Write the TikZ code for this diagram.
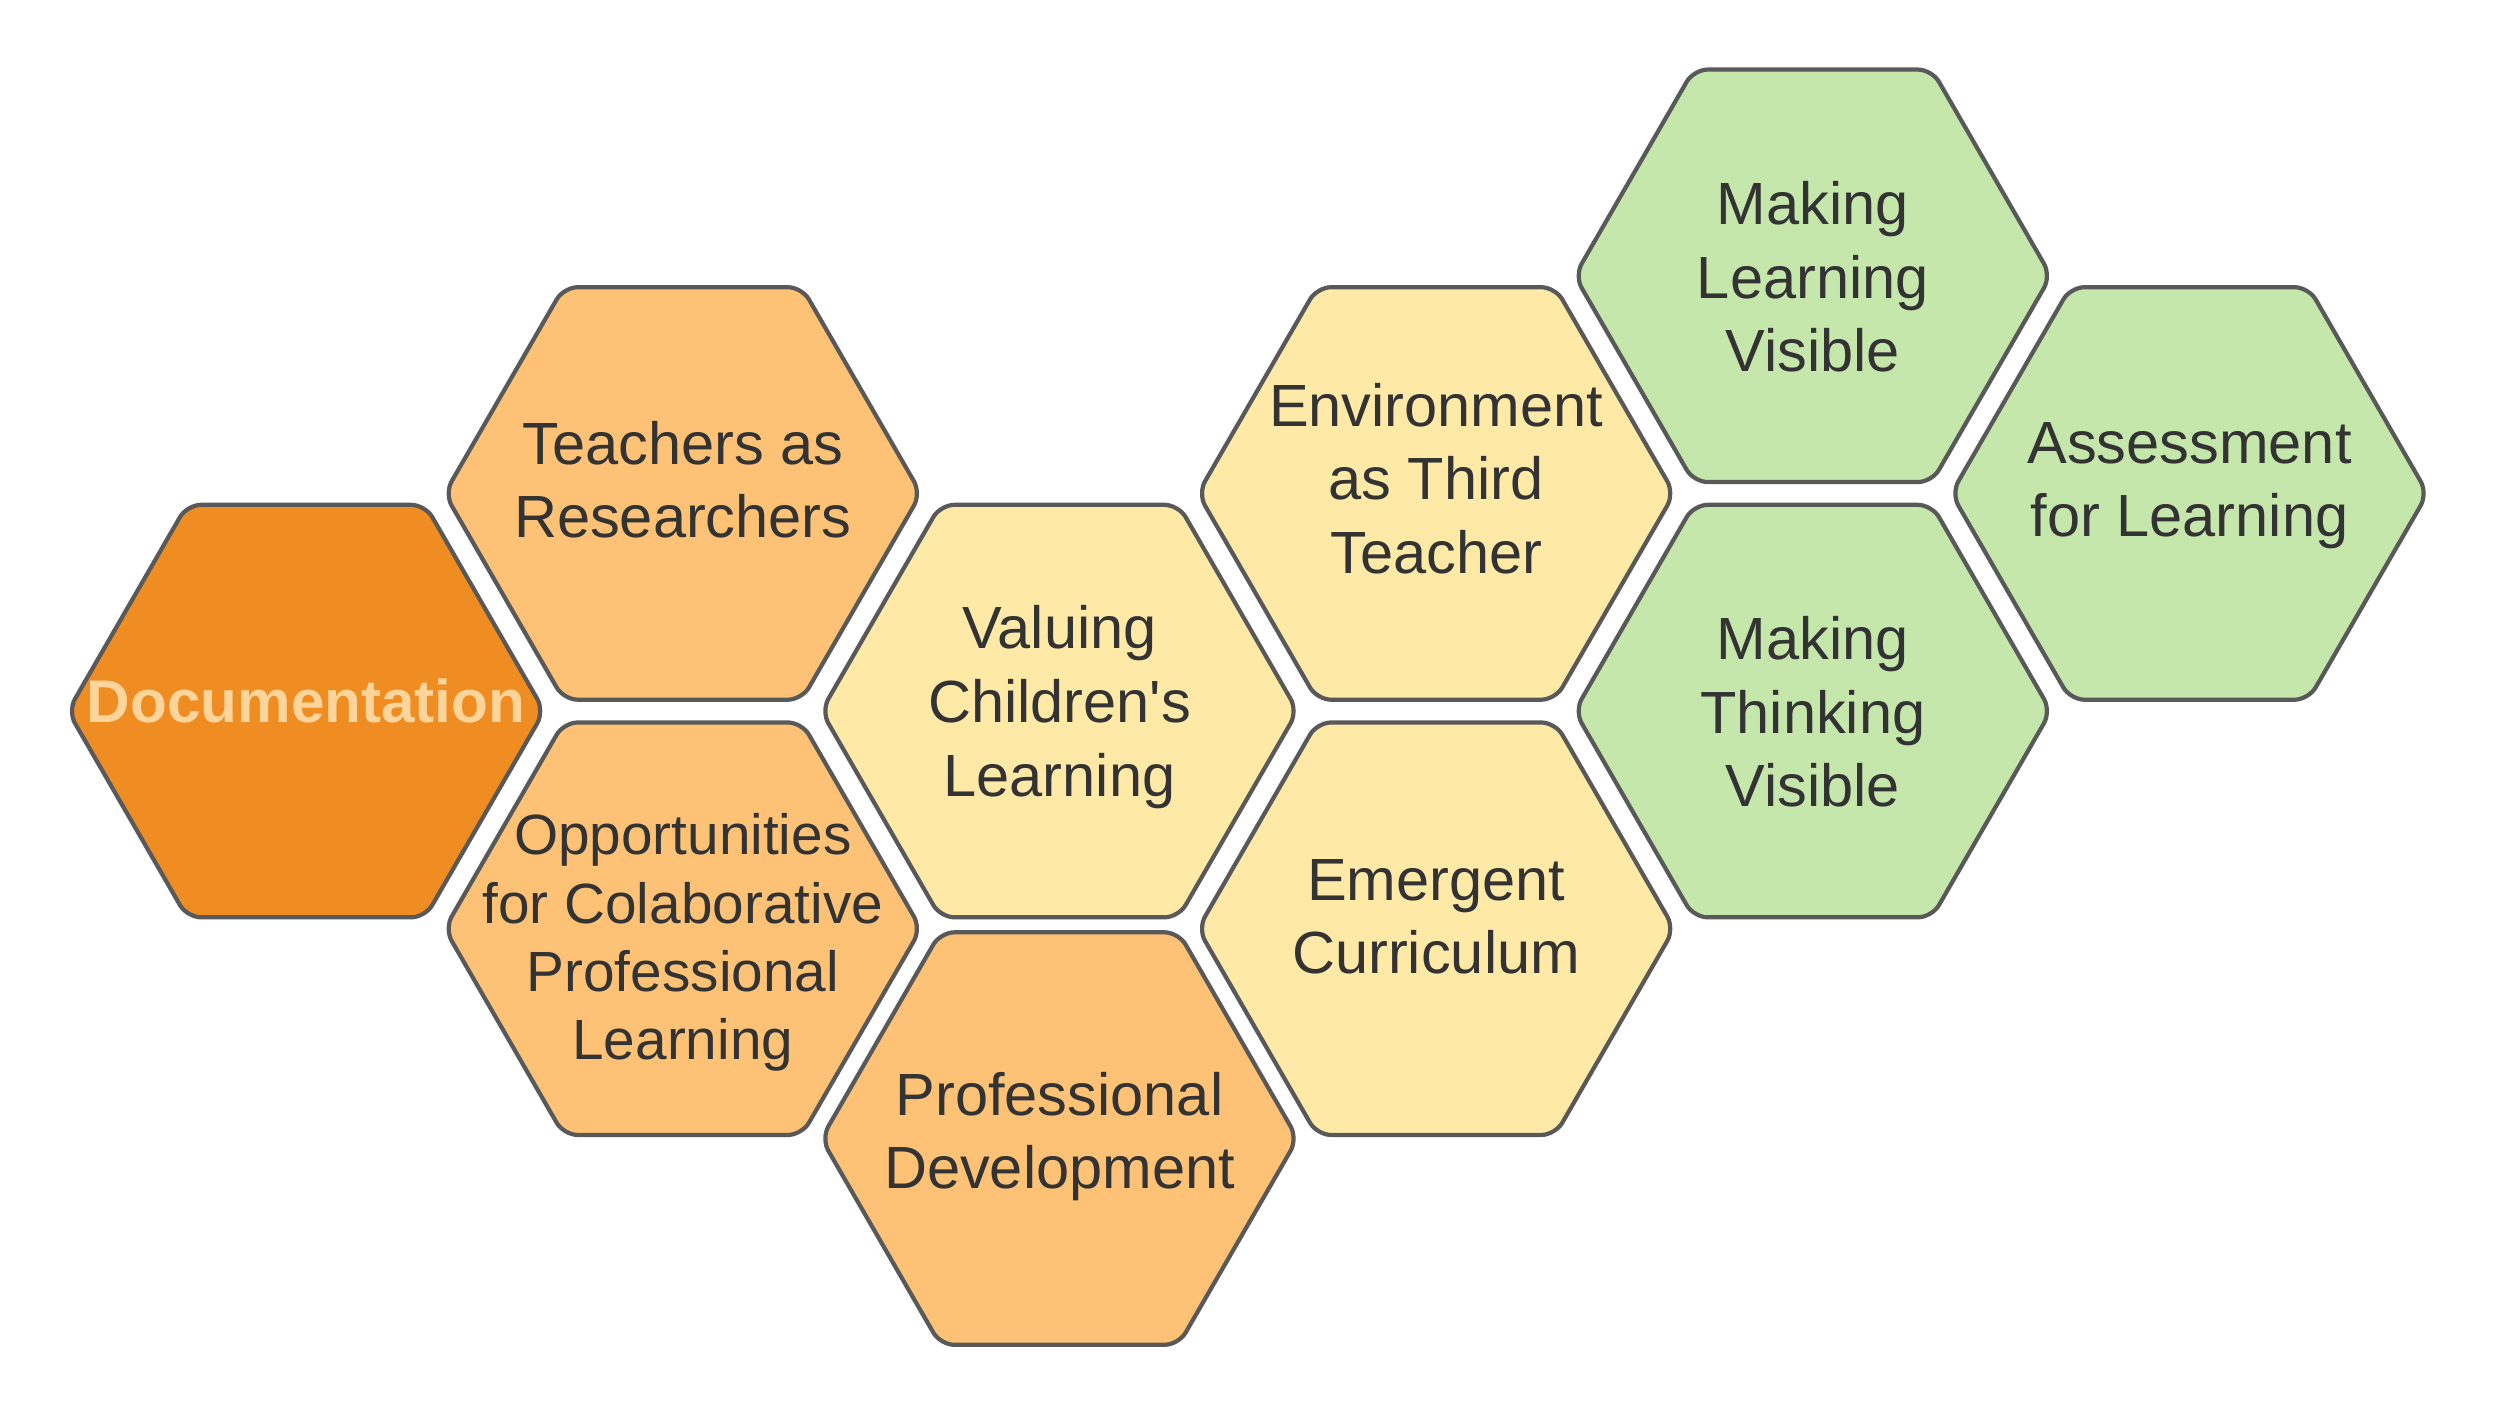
\documentclass[tikz,border=0pt]{standalone}
\usepackage{fontspec}
\setmainfont{Liberation Sans}
\usepackage{tikz}
\usetikzlibrary{shapes.geometric, calc}

\definecolor{hexline}{HTML}{595959}
\definecolor{textgray}{HTML}{333333}
\definecolor{docorange}{HTML}{EF8C22}
\definecolor{doctext}{HTML}{FDD49A}
\definecolor{lightorange}{HTML}{FDC276}
\definecolor{paleyellow}{HTML}{FFE9A7}
\definecolor{palegreen}{HTML}{C6E7AC}

\tikzset{
  hex/.style={regular polygon, regular polygon sides=6, minimum size=4.78cm, inner sep=0pt,
              draw=hexline, line width=1.2pt, rounded corners=4pt},
  hextext/.style={align=center, text=textgray, font=\fontsize{17}{21}\selectfont}
}

\begin{document}
\begin{tikzpicture}
    \useasboundingbox (0,0) rectangle (25.088,14.176);
    \def\dx{3.78}
    \def\dy{2.184}

    \node (Doc) [hex, fill=docorange] at (3.072,7.04) {};
    \node (Teach) [hex, fill=lightorange] at ($(Doc)+(\dx,\dy)$) {};
    \node (Opp) [hex, fill=lightorange] at ($(Doc)+(\dx,-\dy)$) {};
    \node (Valuing) [hex, fill=paleyellow] at ($(Teach)+(\dx,-\dy)$) {};
    \node (ProfDev) [hex, fill=lightorange] at ($(Valuing)+(0,-4.29)$) {};
    \node (Env) [hex, fill=paleyellow] at ($(Valuing)+(\dx,\dy)$) {};
    \node (Emergent) [hex, fill=paleyellow] at ($(Valuing)+(\dx,-\dy)$) {};
    \node (LearnVis) [hex, fill=palegreen] at ($(Env)+(\dx,\dy)$) {};
    \node (ThinkVis) [hex, fill=palegreen] at ($(Env)+(\dx,-\dy)$) {};
    \node (Assess) [hex, fill=palegreen] at ($(LearnVis)+(\dx,-\dy)$) {};

    \node (DocText) [hextext, text=doctext, font=\fontsize{17.2}{21}\selectfont\bfseries] at ($(Doc)+(0,0.1)$) {Documentation};
    \node (TeachText) [hextext] at ($(Teach)+(0,0.14)$) {Teachers as\\Researchers};
    \node (OppText) [hextext, font=\fontsize{16.2}{19.5}\selectfont] at ($(Opp)+(0,-0.14)$) {Opportunities\\for Colaborative\\Professional\\Learning};
    \node (ValuingText) [hextext] at ($(Valuing)+(0,0.04)$) {Valuing\\Children\textquotesingle s\\Learning};
    \node (ProfDevText) [hextext] at ($(ProfDev)+(0,0.02)$) {Professional\\Development};
    \node (EnvText) [hextext] at ($(Env)+(0,0.15)$) {Environment\\as Third\\Teacher};
    \node (EmergentText) [hextext] at ($(Emergent)+(0,0.12)$) {Emergent\\Curriculum};
    \node (LearnVisText) [hextext] at ($(LearnVis)+(0,-0.01)$) {Making\\Learning\\Visible};
    \node (ThinkVisText) [hextext] at ($(ThinkVis)+(0,-0.01)$) {Making\\Thinking\\Visible};
    \node (AssessText) [hextext] at ($(Assess)+(0,0.08)$) {Assessment\\for Learning};

\end{tikzpicture}
\end{document}
